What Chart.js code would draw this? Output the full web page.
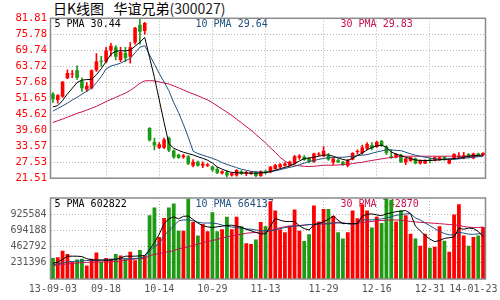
<html>
<head>
<meta charset="utf-8">
<script src="https://cdn.jsdelivr.net/npm/chart.js@4.4.0/dist/chart.umd.min.js"></script>
<style>
body { margin:0; background:#fff; width:500px; height:300px; overflow:hidden; position:relative; }
#title { position:absolute; left:53px; top:0px; font-size:14px; line-height:16px; font-family:"Noto Sans CJK SC"; color:#000; white-space:pre; }
#title span { color:#222; }
#pwrap { position:absolute; left:0; top:0; width:500px; height:188px; }
#vwrap { position:absolute; left:0; top:188px; width:500px; height:112px; }
</style>
</head>
<body>
<div id="title">日K线图   华谊兄弟<span>(300027)</span></div>
<div id="pwrap"><canvas id="price"></canvas></div>
<div id="vwrap"><canvas id="vol"></canvas></div>
<script>
// date labels shown under the volume panel, and the candle index they sit on
var dateLabels = ['13-09-03','09-18','10-14','10-29','11-13','11-29','12-16','12-31','14-01-23'];
var dateIdx = [0,11,22,33,44,56,67,78,87];
var gridIdx = [11,22,33,44,56,67,78];

var opens = [53.4,51.0,52.2,59.2,60.6,62.2,58.2,55.0,55.4,62.2,
65.8,65.5,69.7,70.9,66.1,68.7,67.3,72.7,79.4,77.0,
40.4,35.2,33.0,33.0,36.7,32.0,30.4,29.4,29.8,26.2,
27.7,26.2,26.2,25.9,25.0,23.4,23.8,22.5,22.5,24.1,
23.1,23.1,23.8,22.3,24.2,23.8,25.0,25.6,26.2,26.2,
27.0,29.2,29.6,29.0,27.7,30.4,29.8,30.0,27.4,28.3,
27.7,26.2,28.6,31.4,31.0,32.6,34.0,33.4,35.5,33.4,
29.8,29.4,30.4,27.4,28.0,28.9,27.1,27.1,28.6,28.2,
28.4,29.6,27.1,29.0,29.4,29.2,30.6,29.0,30.8,30.2];
var highs = [53.8,53.0,58.0,62.4,62.2,63.9,59.4,57.6,62.4,68.5,
67.5,70.9,72.4,71.5,70.9,70.9,72.7,78.4,82.0,80.3,
40.6,36.6,34.9,36.6,37.0,32.2,30.6,30.5,30.0,28.5,
28.0,27.7,27.0,26.1,25.6,24.3,24.3,23.6,24.8,24.4,
24.1,24.0,24.0,24.3,24.6,26.0,26.7,27.0,27.4,28.0,
30.1,30.4,30.0,29.4,31.0,31.2,33.4,30.9,29.4,28.6,
27.9,28.6,31.2,32.2,34.0,34.9,34.9,35.5,35.8,33.8,
32.2,30.8,30.6,29.1,29.6,29.2,28.4,28.4,29.2,29.6,
29.6,29.8,28.8,30.8,31.2,31.3,30.8,31.0,31.0,31.2];
var lows = [50.1,49.8,52.0,59.0,59.4,58.8,54.2,54.2,55.2,61.8,
63.7,65.1,67.5,66.1,65.5,65.5,64.9,72.1,72.1,75.7,
35.5,32.2,32.6,32.6,31.5,29.0,29.0,29.0,26.6,25.8,
26.0,25.5,25.9,24.1,23.2,23.0,21.9,22.3,22.3,22.9,
22.5,22.9,22.0,22.2,23.1,23.5,24.8,25.4,26.0,26.0,
26.8,28.6,28.2,27.3,27.5,30.0,29.6,28.2,26.6,27.4,
26.3,25.8,28.4,30.6,30.6,32.2,32.2,33.1,33.5,30.4,
29.0,29.2,27.4,26.6,27.8,26.9,26.8,27.0,27.3,28.0,
28.2,28.2,26.9,28.8,29.0,28.8,29.2,28.8,29.8,30.0];
var closes = [51.3,52.8,57.9,61.2,60.9,59.4,55.4,56.4,62.2,65.5,
65.4,69.7,71.5,67.3,69.1,66.8,70.9,78.2,76.7,80.0,
35.8,33.8,34.3,36.1,32.0,29.4,29.2,30.1,27.0,27.7,
26.2,27.0,26.8,24.6,23.5,24.1,22.5,23.4,24.6,23.1,
23.8,23.8,22.3,24.1,23.9,25.8,26.5,26.8,27.1,27.7,
29.8,30.0,28.4,27.6,30.8,30.6,31.9,28.6,28.8,27.6,
26.5,28.2,31.0,31.6,33.1,34.4,32.8,35.2,33.8,31.0,
29.2,30.6,27.6,28.9,29.4,27.1,28.2,28.2,28.0,29.4,
29.4,28.4,28.6,30.6,30.0,30.2,29.4,30.8,30.0,31.0];

var pma5 = [48.4,48.9,50.8,53.3,55.4,57.6,58.5,58.7,58.8,60.5,
62.8,65.5,68.3,69.4,69.6,69.5,69.8,71.3,72.8,74.6,
67.0,59.5,51.0,42.5,34.5,32.8,32.0,31.3,30.8,30.3,
29.6,29.0,28.3,27.2,25.8,24.9,24.2,23.7,23.6,23.5,
23.5,23.4,23.4,23.5,23.6,24.0,24.5,25.1,25.6,26.1,
27.0,28.0,28.9,29.1,29.4,29.8,30.2,30.3,29.8,29.1,
28.6,28.2,29.0,30.1,31.0,32.2,33.1,33.7,34.0,33.2,
31.4,30.6,30.0,29.4,28.9,28.4,28.2,28.2,28.2,28.3,
28.4,28.6,28.8,28.9,29.1,29.4,29.8,30.0,30.1,30.3];
var pma10 = [46.8,47.8,48.8,49.8,51.0,52.0,53.2,54.3,55.5,57.5,
59.8,62.7,63.8,64.3,64.9,65.8,66.7,68.8,70.9,71.5,
68.0,64.5,61.0,57.8,54.5,50.0,46.2,41.8,37.0,31.7,
30.8,30.2,29.6,29.0,28.3,27.4,26.7,26.1,25.5,24.9,
24.5,24.1,23.9,23.8,23.8,24.0,24.3,24.7,25.2,25.6,
26.0,26.6,27.2,27.8,28.2,28.6,29.0,29.2,29.3,29.4,
29.4,29.6,29.8,30.0,30.2,30.4,30.9,31.4,31.8,32.2,
32.2,32.0,31.9,31.3,30.7,30.2,29.8,29.4,29.1,28.8,
28.6,28.6,28.6,28.6,28.8,29.0,29.2,29.4,29.6,29.7];
var pma30 = [42.5,43.2,43.8,44.5,45.2,46.0,46.5,47.2,47.9,48.6,
49.5,50.4,51.2,52.0,52.8,53.6,54.6,55.9,57.3,58.2,
58.3,58.2,57.8,57.4,57.0,56.3,55.6,54.8,54.0,53.3,
52.6,51.8,51.0,50.0,48.8,47.6,46.4,45.2,43.8,42.4,
41.0,39.6,38.0,36.4,34.8,33.0,31.3,29.4,28.0,26.9,
26.4,26.2,26.0,25.9,26.0,26.2,26.4,26.4,26.4,26.5,
26.6,26.8,27.0,27.3,27.5,27.9,28.2,28.5,28.8,29.1,
29.3,29.5,29.7,29.8,29.8,29.8,29.8,29.8,29.8,29.8,
29.8,29.8,29.8,29.8,29.8,29.8,29.8,29.8,29.8,29.8];
var priceTicks = [21.51,27.53,33.57,39.60,45.62,51.65,57.68,63.72,69.74,75.78,81.81];
var priceMaLast = ['30.44','29.64','29.83'];

var vols = [299000,312000,402000,356000,246000,277000,290000,193000,290000,379000,
246000,299000,290000,356000,335000,290000,388000,269000,415000,335000,
911000,1021000,600000,871000,1020000,1080000,689000,689000,1150000,814000,
622000,787000,681000,955000,681000,711000,888000,711000,888000,755000,
512000,499000,565000,814000,755000,1110000,977000,711000,668000,760000,
991000,689000,543000,640000,1050000,822000,1000000,1000000,902000,668000,
578000,668000,977000,867000,1066000,977000,734000,888000,800000,1154000,
1133000,822000,977000,911000,645000,578000,476000,645000,445000,459000,
755000,548000,388000,920000,1066000,622000,476000,601000,622000,742000];
var vma5 = [225000,240000,280000,326000,326000,326000,320000,290000,275000,270000,
269000,269000,269000,280000,300000,326000,326000,326000,330000,335000,
420000,520000,640000,790000,860000,888000,860000,895000,900000,850000,
800000,760000,745000,735000,745000,755000,765000,769000,755000,740000,
710000,689000,665000,645000,645000,755000,867000,840000,822000,822000,
822000,760000,720000,700000,778000,790000,820000,850000,900000,840000,
790000,795000,790000,790000,900000,925000,930000,915000,905000,930000,
945000,962000,970000,977000,934000,755000,689000,620000,570000,534000,
550000,580000,590000,600000,725000,711000,728000,720000,680000,603000];
var vma10 = [202000,215000,230000,246000,250000,255000,260000,264000,267000,269000,
272000,276000,282000,288000,290000,290000,290000,292000,300000,312000,
400000,470000,500000,620000,690000,760000,830000,844000,844000,830000,
810000,800000,800000,800000,790000,770000,755000,742000,734000,725000,
715000,711000,700000,690000,689000,689000,700000,720000,734000,745000,
755000,760000,770000,778000,782000,787000,787000,785000,800000,800000,
800000,790000,780000,800000,844000,844000,844000,850000,858000,870000,
890000,910000,920000,930000,934000,870000,844000,800000,760000,720000,
680000,650000,630000,630000,668000,655000,640000,638000,645000,664000];
var vma30 = [193000,200000,208000,215000,222000,228000,234000,237000,240000,242000,
244000,245000,246000,250000,258000,268000,278000,285000,290000,295000,
335000,350000,365000,379000,390000,405000,430000,445000,460000,480000,
500000,520000,534000,550000,565000,585000,601000,615000,628000,640000,
654000,660000,665000,668000,672000,690000,715000,734000,745000,755000,
762000,765000,770000,775000,780000,787000,790000,795000,800000,810000,
800000,790000,787000,795000,805000,815000,822000,830000,835000,840000,
844000,844000,840000,830000,822000,815000,810000,805000,800000,795000,
790000,785000,778000,775000,765000,750000,740000,735000,734000,743000];
var volTicks = [231396,462792,694188,925584];
var volMax = 1156980;
var volMaLast = ['602822','664137','742870'];

var RED = '#ff0000', GREEN = '#1e9a14', BLUE = '#1f4f7d', CRIMSON = '#c8104f';
var FONT = {family: 'DejaVu Sans Mono', size: 10};

var labels = opens.map(function () { return ''; });
dateIdx.forEach(function (k, j) { labels[k] = dateLabels[j]; });
var candleColor = opens.map(function (o, i) { return closes[i] >= o ? RED : GREEN; });

var frame = {
  id: 'frame',
  afterDatasetsDraw: function (chart) {
    var a = chart.chartArea, ctx = chart.ctx;
    ctx.save();
    ctx.strokeStyle = '#8a8a8a';
    ctx.lineWidth = 1.5;
    ctx.strokeRect(a.left, a.top, a.right - a.left, a.bottom - a.top);
    ctx.restore();
  }
};
var maText = {
  id: 'maText',
  beforeDatasetsDraw: function (chart, args, opts) {
    var a = chart.chartArea, ctx = chart.ctx;
    ctx.save();
    ctx.font = '10px "DejaVu Sans Mono"';
    ctx.textBaseline = 'middle';
    opts.items.forEach(function (t, j) {
      ctx.fillStyle = opts.colors[j];
      ctx.fillText(t, a.left + opts.xs[j], a.top + 6.5);
    });
    ctx.restore();
  }
};

function xScale(showTicks) {
  return {
    offset: true,
    grid: {
      offset: false, drawTicks: false,
      color: function (c) { return gridIdx.indexOf(c.index) >= 0 ? '#b4b4b4' : 'rgba(0,0,0,0)'; }
    },
    border: {display: false, dash: [1, 2]},
    ticks: {display: showTicks, autoSkip: false, maxRotation: 0, minRotation: 0,
            color: '#555', font: FONT, padding: 4},
    afterFit: function (s) { s.height = showTicks ? 21 : 0; }
  };
}
function maLine(label, data, color) {
  return {type: 'line', label: label, data: data, borderColor: color, borderWidth: 1,
          pointRadius: 0, tension: 0, order: 0};
}

new Chart(document.getElementById('price'), {
  data: {
    labels: labels,
    datasets: [
      maLine('5 PMA', pma5, '#000'),
      maLine('10 PMA', pma10, BLUE),
      maLine('30 PMA', pma30, CRIMSON),
      {type: 'bar', label: 'body', data: opens.map(function (o, i) { return [o, closes[i]]; }),
       backgroundColor: candleColor, grouped: false, barPercentage: 0.75, categoryPercentage: 1,
       minBarLength: 1, order: 1},
      {type: 'bar', label: 'wick', data: lows.map(function (l, i) { return [l, highs[i]]; }),
       backgroundColor: candleColor, grouped: false, barThickness: 1, order: 2}
    ]
  },
  options: {
    responsive: true, maintainAspectRatio: false, animation: false,
    layout: {padding: {left: 0, right: 14.5, top: 18.3, bottom: 3.5}},
    plugins: {
      legend: {display: false}, tooltip: {enabled: false},
      maText: {items: ['5 PMA ' + priceMaLast[0], '10 PMA ' + priceMaLast[1], '30 PMA ' + priceMaLast[2]],
               colors: ['#000', BLUE, CRIMSON], xs: [4, 145, 290]}
    },
    scales: {
      x: xScale(false),
      y: {
        min: 21.51, max: 81.81,
        afterBuildTicks: function (s) { s.ticks = priceTicks.map(function (v) { return {value: v}; }); },
        afterFit: function (s) { s.width = 50.5; },
        grid: {drawTicks: false, color: '#b4b4b4'},
        border: {display: false, dash: [1, 2]},
        ticks: {color: RED, font: {family: 'DejaVu Sans Mono', size: 10.5}, padding: 3.5,
                callback: function (v) { return v.toFixed(2); }}
      }
    }
  },
  plugins: [maText, frame]
});

new Chart(document.getElementById('vol'), {
  data: {
    labels: labels,
    datasets: [
      maLine('5 PMA', vma5, '#000'),
      maLine('10 PMA', vma10, BLUE),
      maLine('30 PMA', vma30, CRIMSON),
      {type: 'bar', label: 'volume', data: vols, backgroundColor: candleColor,
       barPercentage: 0.78, categoryPercentage: 1, order: 1}
    ]
  },
  options: {
    responsive: true, maintainAspectRatio: false, animation: false,
    layout: {padding: {left: 0, right: 14.5, top: 3.5, bottom: 0}},
    plugins: {
      legend: {display: false}, tooltip: {enabled: false},
      maText: {items: ['5 PMA ' + volMaLast[0], '10 PMA ' + volMaLast[1], '30 PMA ' + volMaLast[2]],
               colors: ['#000', BLUE, CRIMSON], xs: [4, 145, 290]}
    },
    scales: {
      x: xScale(true),
      y: {
        min: 0, max: volMax,
        afterBuildTicks: function (s) { s.ticks = volTicks.map(function (v) { return {value: v}; }); },
        afterFit: function (s) { s.width = 50.5; },
        grid: {drawTicks: false, color: '#b4b4b4'},
        border: {display: false, dash: [1, 2]},
        ticks: {color: '#555', font: FONT, padding: 4, callback: function (v) { return String(v); }}
      }
    }
  },
  plugins: [maText, frame]
});
</script>
</body>
</html>
